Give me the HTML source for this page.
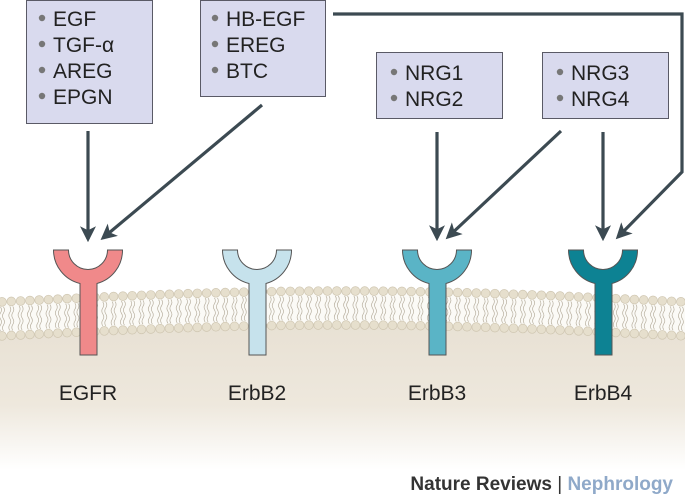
<!DOCTYPE html>
<html><head><meta charset="utf-8"><style>
html,body{margin:0;padding:0;background:#fff;}
svg{display:block;font-family:"Liberation Sans",sans-serif;}
</style></head><body>
<svg id="s" width="685" height="498" viewBox="0 0 685 498" xmlns="http://www.w3.org/2000/svg">
<defs>
<linearGradient id="bg" x1="0" y1="0" x2="0" y2="1">
<stop offset="0" stop-color="#e8e1d4"/><stop offset="0.55" stop-color="#eee8dd"/><stop offset="1" stop-color="#ffffff"/>
</linearGradient>
<marker id="ah" viewBox="0 0 10 10" refX="8" refY="5" markerWidth="5" markerHeight="5" orient="auto">
<path d="M0,0 L10,5 L0,10 L2.5,5 z" fill="#3c4a52"/>
</marker>
</defs>
<path d="M0,336 Q342,316 685,334 L685,470 L0,470 z" fill="url(#bg)"/>
<g id="mem"></g>

<g fill="#d9daee" stroke="#5a5a66" stroke-width="1">
<rect x="26.5" y="0.5" width="126" height="123"/>
<rect x="200.5" y="0.5" width="125" height="96"/>
<rect x="376.5" y="52.5" width="126" height="66"/>
<rect x="542.5" y="52.5" width="126" height="66"/>
</g>
<g font-size="21" fill="#222">
<text x="53" y="26">EGF</text><text x="53" y="52">TGF-α</text><text x="53" y="78">AREG</text><text x="53" y="104">EPGN</text>
<text x="226" y="26">HB-EGF</text><text x="226" y="52">EREG</text><text x="226" y="78">BTC</text>
<text x="405" y="80">NRG1</text><text x="405" y="106">NRG2</text>
<text x="571" y="80">NRG3</text><text x="571" y="106">NRG4</text>
</g>
<g fill="#777">
<circle cx="42" cy="18" r="3.2"/><circle cx="42" cy="44" r="3.2"/><circle cx="42" cy="70" r="3.2"/><circle cx="42" cy="96" r="3.2"/>
<circle cx="215" cy="18" r="3.2"/><circle cx="215" cy="44" r="3.2"/><circle cx="215" cy="70" r="3.2"/>
<circle cx="394" cy="72" r="3.2"/><circle cx="394" cy="98" r="3.2"/>
<circle cx="560" cy="72" r="3.2"/><circle cx="560" cy="98" r="3.2"/>
</g>

<g stroke="#3c4a52" stroke-width="3.2" fill="none" marker-end="url(#ah)">
<line x1="88" y1="131" x2="88" y2="239"/>
<line x1="262" y1="105" x2="103" y2="238"/>
<line x1="437" y1="132" x2="437" y2="238"/>
<line x1="561" y1="131" x2="448" y2="237"/>
<line x1="603" y1="132" x2="603" y2="238"/>
<polyline points="333,14 682,14 682,172 618,237"/>
</g>

<g stroke="#555" stroke-width="1">
<g fill="#f0898a"><path d="M53.5,250 A34.5,34.5 0 0 0 80,283.5 L80,355 L97,355 L97,283.5 A34.5,34.5 0 0 0 122.5,250 L107.5,250 A19.5,19.5 0 0 1 68.5,250 Z"/></g>
<g fill="#c6e2ec"><path d="M222.5,250 A34.5,34.5 0 0 0 249,283.5 L249,355 L266,355 L266,283.5 A34.5,34.5 0 0 0 291.5,250 L276.5,250 A19.5,19.5 0 0 1 237.5,250 Z"/></g>
<g fill="#5ab4c6"><path d="M402.5,250 A34.5,34.5 0 0 0 429,283.5 L429,355 L446,355 L446,283.5 A34.5,34.5 0 0 0 471.5,250 L456.5,250 A19.5,19.5 0 0 1 417.5,250 Z"/></g>
<g fill="#0d8293"><path d="M568.5,250 A34.5,34.5 0 0 0 595,283.5 L595,355 L612,355 L612,283.5 A34.5,34.5 0 0 0 637.5,250 L622.5,250 A19.5,19.5 0 0 1 583.5,250 Z"/></g>
</g>

<g font-size="21" fill="#222" text-anchor="middle">
<text x="88" y="400">EGFR</text><text x="257" y="400">ErbB2</text><text x="437" y="400">ErbB3</text><text x="603" y="400">ErbB4</text>
</g>
<text x="673" y="490" font-size="19" font-weight="bold" text-anchor="end"><tspan fill="#333">Nature Reviews</tspan><tspan fill="#333" font-weight="normal"> | </tspan><tspan fill="#8fa9c9">Nephrology</tspan></text>
</svg>
<script>
(function(){
var g=document.getElementById('mem'),h='';
function yt(x){return 302-11*Math.sin(Math.PI*x/685);}
h+='<path d="M0,302 Q342,280 685,302 L685,337 Q342,315 0,337 z" fill="#fbfaf6"/>';
for(var x=2;x<690;x+=9.3){
 var t=yt(x),b=t+34;
 h+='<path d="M'+(x-1.5)+','+(t+5)+' q2,3 0,6 q-2,3 0,6 q2,3 0,6 q-2,3 0,6" stroke="#b8b0a0" stroke-width="0.7" fill="none"/>';
 h+='<path d="M'+(x+1.5)+','+(t+5)+' q2,3 0,6 q-2,3 0,6 q2,3 0,6 q-2,3 0,6" stroke="#b8b0a0" stroke-width="0.7" fill="none"/>';
 h+='<circle cx="'+x+'" cy="'+t+'" r="4.4" fill="#e6dfcd" stroke="#cfc6b1" stroke-width="0.7"/>';
 h+='<circle cx="'+x+'" cy="'+b+'" r="4.4" fill="#e6dfcd" stroke="#cfc6b1" stroke-width="0.7"/>';
}
g.innerHTML=h;
})();
</script>
</body></html>
